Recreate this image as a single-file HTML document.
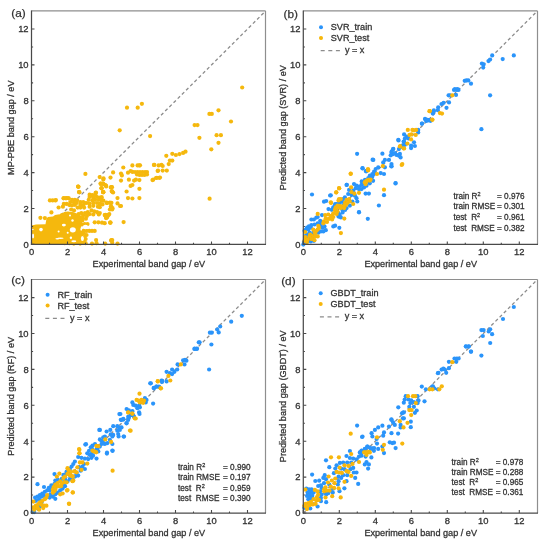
<!DOCTYPE html>
<html><head><meta charset="utf-8"><title>Band gap parity plots</title><style>
html,body{margin:0;padding:0;background:#fff;overflow:hidden;}
svg{display:block;}
.t{font-family:'Liberation Sans', Arial, sans-serif;font-size:9.1px;fill:#333333;stroke:#333333;stroke-width:0.3px;}
.tt{font-size:9.6px;}
.tk{font-size:9.4px;}
.s{font-family:'Liberation Sans', Arial, sans-serif;font-size:8.2px;fill:#333333;stroke:#333333;stroke-width:0.28px;}
.sup{font-size:5.5px;}
.pl{font-family:'Liberation Sans', Arial, sans-serif;font-size:11.8px;fill:#333333;stroke:#333333;stroke-width:0.25px;}
</style></head><body>
<svg width="550" height="543" viewBox="0 0 550 543">
<defs><filter id="soft" x="0" y="0" width="550" height="543" filterUnits="userSpaceOnUse"><feGaussianBlur stdDeviation="0.5"/></filter></defs>
<rect width="550" height="543" fill="#fff"/>
<g filter="url(#soft)">
<line x1="31.50" y1="244.40" x2="265.50" y2="11.05" stroke="#8c8c8c" stroke-width="1.3" stroke-dasharray="3.3,2.6"/>
<polygon points="31.5,244.9 31.5,225.5 36.0,224.5 45.5,224.3 46.5,218.5 48.0,217.0 53.0,216.5 55.0,215.0 58.0,214.5 62.0,214.0 64.0,212.0 68.0,211.5 74.0,212.5 80.0,214.5 82.0,218.0 82.0,224.0 80.0,230.0 84.0,232.0 83.0,236.0 86.0,240.0 86.0,244.9" fill="#f5b80c"/>
<g fill="#f5b80c"><circle cx="100.7" cy="183.7" r="2.1"/><circle cx="103.0" cy="183.7" r="2.1"/><circle cx="105.3" cy="185.1" r="2.1"/><circle cx="106.2" cy="186.4" r="2.1"/><circle cx="101.6" cy="188.3" r="2.1"/><circle cx="103.4" cy="192.0" r="2.1"/><circle cx="110.8" cy="187.4" r="2.1"/><circle cx="111.7" cy="191.0" r="2.1"/><circle cx="78.1" cy="186.6" r="2.1"/><circle cx="79.0" cy="192.0" r="2.1"/><circle cx="63.8" cy="198.0" r="2.1"/><circle cx="66.1" cy="198.0" r="2.1"/><circle cx="68.0" cy="198.0" r="2.1"/><circle cx="89.6" cy="194.7" r="2.1"/><circle cx="92.4" cy="195.2" r="2.1"/><circle cx="95.6" cy="192.9" r="2.1"/><circle cx="89.6" cy="197.0" r="2.1"/><circle cx="93.3" cy="197.5" r="2.1"/><circle cx="97.0" cy="197.0" r="2.1"/><circle cx="99.8" cy="197.5" r="2.1"/><circle cx="88.7" cy="199.8" r="2.1"/><circle cx="92.4" cy="200.3" r="2.1"/><circle cx="95.1" cy="199.8" r="2.1"/><circle cx="98.8" cy="199.8" r="2.1"/><circle cx="101.6" cy="200.7" r="2.1"/><circle cx="103.4" cy="200.7" r="2.1"/><circle cx="86.9" cy="203.0" r="2.1"/><circle cx="89.6" cy="203.5" r="2.1"/><circle cx="93.3" cy="203.0" r="2.1"/><circle cx="97.0" cy="203.0" r="2.1"/><circle cx="99.8" cy="203.9" r="2.1"/><circle cx="102.5" cy="204.4" r="2.1"/><circle cx="89.6" cy="206.7" r="2.1"/><circle cx="93.3" cy="205.8" r="2.1"/><circle cx="97.9" cy="206.7" r="2.1"/><circle cx="99.8" cy="207.2" r="2.1"/><circle cx="72.1" cy="199.8" r="2.1"/><circle cx="74.9" cy="199.8" r="2.1"/><circle cx="77.2" cy="200.3" r="2.1"/><circle cx="70.3" cy="202.1" r="2.1"/><circle cx="74.0" cy="202.6" r="2.1"/><circle cx="76.7" cy="203.0" r="2.1"/><circle cx="80.4" cy="202.1" r="2.1"/><circle cx="83.2" cy="202.1" r="2.1"/><circle cx="85.0" cy="203.0" r="2.1"/><circle cx="63.8" cy="203.9" r="2.1"/><circle cx="66.6" cy="203.9" r="2.1"/><circle cx="69.4" cy="204.9" r="2.1"/><circle cx="72.1" cy="205.3" r="2.1"/><circle cx="74.9" cy="204.9" r="2.1"/><circle cx="80.4" cy="204.9" r="2.1"/><circle cx="83.2" cy="205.3" r="2.1"/><circle cx="62.9" cy="206.7" r="2.1"/><circle cx="77.7" cy="207.6" r="2.1"/><circle cx="80.4" cy="207.6" r="2.1"/><circle cx="84.1" cy="207.6" r="2.1"/><circle cx="107.1" cy="203.0" r="2.1"/><circle cx="109.9" cy="202.6" r="2.1"/><circle cx="110.8" cy="206.7" r="2.1"/><circle cx="109.9" cy="209.5" r="2.1"/><circle cx="91.5" cy="210.4" r="2.1"/><circle cx="94.2" cy="211.3" r="2.1"/><circle cx="97.0" cy="212.2" r="2.1"/><circle cx="99.8" cy="213.1" r="2.1"/><circle cx="87.8" cy="212.2" r="2.1"/><circle cx="85.0" cy="213.1" r="2.1"/><circle cx="81.3" cy="213.1" r="2.1"/><circle cx="78.6" cy="214.1" r="2.1"/><circle cx="89.6" cy="214.1" r="2.1"/><circle cx="93.3" cy="214.5" r="2.1"/><circle cx="98.8" cy="214.5" r="2.1"/><circle cx="83.2" cy="215.5" r="2.1"/><circle cx="86.9" cy="215.9" r="2.1"/><circle cx="78.6" cy="216.8" r="2.1"/><circle cx="82.3" cy="217.8" r="2.1"/><circle cx="75.8" cy="215.9" r="2.1"/><circle cx="71.2" cy="209.5" r="2.1"/><circle cx="74.0" cy="210.4" r="2.1"/><circle cx="62.0" cy="215.0" r="2.1"/><circle cx="65.7" cy="215.0" r="2.1"/><circle cx="69.4" cy="214.1" r="2.1"/><circle cx="72.1" cy="214.1" r="2.1"/><circle cx="63.8" cy="217.8" r="2.1"/><circle cx="67.5" cy="217.8" r="2.1"/><circle cx="71.2" cy="217.8" r="2.1"/><circle cx="62.0" cy="220.5" r="2.1"/><circle cx="65.7" cy="220.5" r="2.1"/><circle cx="69.4" cy="220.5" r="2.1"/><circle cx="78.6" cy="219.6" r="2.1"/><circle cx="82.3" cy="220.5" r="2.1"/><circle cx="85.9" cy="218.7" r="2.1"/><circle cx="105.3" cy="215.0" r="2.1"/><circle cx="107.1" cy="215.0" r="2.1"/><circle cx="106.2" cy="216.8" r="2.1"/><circle cx="63.8" cy="224.5" r="2.1"/><circle cx="67.5" cy="225.0" r="2.1"/><circle cx="71.1" cy="224.1" r="2.1"/><circle cx="74.7" cy="224.5" r="2.1"/><circle cx="78.4" cy="225.0" r="2.1"/><circle cx="82.0" cy="224.5" r="2.1"/><circle cx="84.7" cy="224.1" r="2.1"/><circle cx="87.5" cy="224.1" r="2.1"/><circle cx="62.9" cy="228.6" r="2.1"/><circle cx="67.5" cy="229.1" r="2.1"/><circle cx="78.4" cy="230.0" r="2.1"/><circle cx="83.8" cy="230.5" r="2.1"/><circle cx="86.5" cy="230.9" r="2.1"/><circle cx="89.3" cy="230.9" r="2.1"/><circle cx="92.0" cy="230.9" r="2.1"/><circle cx="94.7" cy="230.9" r="2.1"/><circle cx="63.8" cy="232.3" r="2.1"/><circle cx="67.5" cy="233.2" r="2.1"/><circle cx="71.1" cy="232.3" r="2.1"/><circle cx="74.7" cy="234.1" r="2.1"/><circle cx="78.4" cy="234.1" r="2.1"/><circle cx="83.8" cy="233.2" r="2.1"/><circle cx="86.5" cy="235.0" r="2.1"/><circle cx="62.9" cy="236.8" r="2.1"/><circle cx="66.5" cy="236.8" r="2.1"/><circle cx="70.2" cy="236.8" r="2.1"/><circle cx="73.8" cy="236.8" r="2.1"/><circle cx="77.5" cy="236.8" r="2.1"/><circle cx="84.7" cy="236.8" r="2.1"/><circle cx="63.8" cy="240.5" r="2.1"/><circle cx="67.5" cy="240.5" r="2.1"/><circle cx="71.1" cy="239.5" r="2.1"/><circle cx="74.7" cy="240.5" r="2.1"/><circle cx="78.4" cy="239.5" r="2.1"/><circle cx="85.6" cy="239.1" r="2.1"/><circle cx="96.1" cy="240.0" r="2.1"/><circle cx="64.7" cy="243.2" r="2.1"/><circle cx="69.3" cy="243.2" r="2.1"/><circle cx="73.8" cy="243.6" r="2.1"/><circle cx="80.2" cy="243.6" r="2.1"/><circle cx="85.6" cy="243.2" r="2.1"/><circle cx="92.0" cy="243.6" r="2.1"/><circle cx="96.5" cy="243.2" r="2.1"/><circle cx="111.1" cy="240.5" r="2.1"/><circle cx="94.7" cy="222.3" r="2.1"/><circle cx="98.4" cy="222.3" r="2.1"/><circle cx="102.0" cy="222.7" r="2.1"/><circle cx="104.7" cy="223.2" r="2.1"/><circle cx="110.2" cy="222.7" r="2.1"/><circle cx="104.7" cy="215.0" r="2.1"/><circle cx="107.5" cy="215.9" r="2.1"/><circle cx="109.3" cy="214.1" r="2.1"/><circle cx="106.5" cy="217.7" r="2.1"/><circle cx="209.6" cy="198.7" r="2.1"/><circle cx="78.1" cy="186.6" r="2.1"/><circle cx="79.2" cy="192.1" r="2.1"/><circle cx="49.9" cy="200.4" r="2.1"/><circle cx="52.7" cy="200.4" r="2.1"/><circle cx="55.4" cy="200.4" r="2.1"/><circle cx="63.5" cy="198.3" r="2.1"/><circle cx="66.0" cy="198.3" r="2.1"/><circle cx="68.8" cy="198.3" r="2.1"/><circle cx="58.6" cy="207.5" r="2.1"/><circle cx="51.4" cy="212.4" r="2.1"/><circle cx="40.4" cy="217.8" r="2.1"/><circle cx="44.9" cy="218.1" r="2.1"/><circle cx="55.9" cy="200.1" r="2.1"/><circle cx="101.5" cy="188.3" r="2.1"/><circle cx="103.1" cy="192.2" r="2.1"/><circle cx="112.0" cy="187.2" r="2.1"/><circle cx="112.0" cy="191.6" r="2.1"/><circle cx="96.0" cy="192.7" r="2.1"/><circle cx="106.5" cy="202.7" r="2.1"/><circle cx="110.9" cy="203.2" r="2.1"/><circle cx="112.5" cy="208.2" r="2.1"/><circle cx="105.4" cy="214.8" r="2.1"/><circle cx="108.7" cy="214.8" r="2.1"/><circle cx="106.0" cy="218.1" r="2.1"/><circle cx="110.3" cy="222.6" r="2.1"/><circle cx="111.4" cy="240.2" r="2.1"/><circle cx="123.3" cy="167.5" r="2.1"/><circle cx="132.4" cy="165.4" r="2.1"/><circle cx="137.6" cy="165.4" r="2.1"/><circle cx="139.4" cy="165.4" r="2.1"/><circle cx="153.9" cy="164.9" r="2.1"/><circle cx="158.6" cy="165.4" r="2.1"/><circle cx="113.1" cy="172.4" r="2.1"/><circle cx="121.0" cy="173.6" r="2.1"/><circle cx="121.9" cy="175.4" r="2.1"/><circle cx="128.0" cy="172.7" r="2.1"/><circle cx="130.6" cy="171.0" r="2.1"/><circle cx="132.4" cy="171.9" r="2.1"/><circle cx="135.0" cy="172.0" r="2.1"/><circle cx="137.5" cy="172.0" r="2.1"/><circle cx="140.0" cy="172.0" r="2.1"/><circle cx="142.5" cy="172.0" r="2.1"/><circle cx="145.0" cy="172.0" r="2.1"/><circle cx="147.0" cy="172.0" r="2.1"/><circle cx="137.0" cy="174.5" r="2.1"/><circle cx="139.5" cy="175.0" r="2.1"/><circle cx="142.0" cy="175.0" r="2.1"/><circle cx="144.5" cy="175.0" r="2.1"/><circle cx="147.0" cy="174.5" r="2.1"/><circle cx="157.7" cy="171.0" r="2.1"/><circle cx="152.5" cy="180.1" r="2.1"/><circle cx="156.0" cy="178.0" r="2.1"/><circle cx="160.0" cy="177.6" r="2.1"/><circle cx="110.5" cy="177.6" r="2.1"/><circle cx="103.5" cy="178.3" r="2.1"/><circle cx="101.0" cy="184.0" r="2.1"/><circle cx="103.5" cy="184.0" r="2.1"/><circle cx="106.0" cy="185.5" r="2.1"/><circle cx="121.0" cy="180.6" r="2.1"/><circle cx="128.9" cy="179.7" r="2.1"/><circle cx="134.1" cy="180.6" r="2.1"/><circle cx="135.9" cy="179.7" r="2.1"/><circle cx="139.4" cy="180.1" r="2.1"/><circle cx="132.4" cy="185.0" r="2.1"/><circle cx="130.6" cy="185.9" r="2.1"/><circle cx="111.4" cy="187.1" r="2.1"/><circle cx="139.4" cy="188.8" r="2.1"/><circle cx="126.6" cy="191.5" r="2.1"/><circle cx="112.2" cy="191.6" r="2.1"/><circle cx="113.1" cy="192.5" r="2.1"/><circle cx="103.1" cy="192.0" r="2.1"/><circle cx="117.5" cy="198.1" r="2.1"/><circle cx="128.0" cy="198.1" r="2.1"/><circle cx="132.4" cy="198.5" r="2.1"/><circle cx="139.4" cy="198.1" r="2.1"/><circle cx="101.7" cy="197.2" r="2.1"/><circle cx="102.0" cy="200.0" r="2.1"/><circle cx="107.0" cy="202.8" r="2.1"/><circle cx="111.4" cy="202.8" r="2.1"/><circle cx="117.5" cy="203.4" r="2.1"/><circle cx="120.1" cy="206.0" r="2.1"/><circle cx="121.0" cy="206.0" r="2.1"/><circle cx="111.4" cy="206.9" r="2.1"/><circle cx="112.2" cy="209.5" r="2.1"/><circle cx="100.0" cy="204.0" r="2.1"/><circle cx="105.2" cy="215.6" r="2.1"/><circle cx="107.9" cy="215.6" r="2.1"/><circle cx="107.0" cy="217.4" r="2.1"/><circle cx="110.5" cy="222.6" r="2.1"/><circle cx="123.6" cy="222.1" r="2.1"/><circle cx="112.2" cy="240.1" r="2.1"/><circle cx="112.2" cy="242.7" r="2.1"/><circle cx="105.2" cy="243.6" r="2.1"/><circle cx="117.5" cy="243.6" r="2.1"/><circle cx="242.2" cy="87.5" r="2.1"/><circle cx="141.9" cy="103.8" r="2.1"/><circle cx="218.5" cy="110.3" r="2.1"/><circle cx="209.4" cy="113.9" r="2.1"/><circle cx="211.8" cy="113.9" r="2.1"/><circle cx="231.0" cy="121.5" r="2.1"/><circle cx="194.6" cy="125.1" r="2.1"/><circle cx="197.5" cy="125.1" r="2.1"/><circle cx="150.1" cy="136.1" r="2.1"/><circle cx="199.4" cy="137.8" r="2.1"/><circle cx="216.6" cy="135.2" r="2.1"/><circle cx="220.9" cy="135.2" r="2.1"/><circle cx="218.5" cy="142.8" r="2.1"/><circle cx="211.3" cy="149.3" r="2.1"/><circle cx="166.3" cy="155.8" r="2.1"/><circle cx="172.3" cy="153.8" r="2.1"/><circle cx="175.9" cy="155.0" r="2.1"/><circle cx="179.5" cy="154.1" r="2.1"/><circle cx="183.1" cy="152.9" r="2.1"/><circle cx="185.5" cy="151.7" r="2.1"/><circle cx="169.9" cy="160.6" r="2.1"/><circle cx="172.3" cy="160.6" r="2.1"/><circle cx="168.7" cy="164.1" r="2.1"/><circle cx="154.4" cy="164.9" r="2.1"/><circle cx="161.5" cy="164.9" r="2.1"/><circle cx="162.7" cy="166.0" r="2.1"/><circle cx="158.0" cy="170.6" r="2.1"/><circle cx="162.7" cy="170.6" r="2.1"/><circle cx="166.8" cy="170.6" r="2.1"/><circle cx="153.2" cy="179.7" r="2.1"/><circle cx="156.8" cy="177.8" r="2.1"/><circle cx="159.2" cy="177.8" r="2.1"/><circle cx="140.0" cy="165.3" r="2.1"/><circle cx="127.0" cy="107.7" r="2.1"/><circle cx="137.7" cy="107.7" r="2.1"/><circle cx="119.7" cy="130.3" r="2.1"/><circle cx="85.4" cy="173.9" r="2.1"/><circle cx="99.7" cy="177.1" r="2.1"/><circle cx="103.3" cy="179.4" r="2.1"/><circle cx="100.6" cy="183.5" r="2.1"/><circle cx="102.9" cy="183.5" r="2.1"/><circle cx="101.5" cy="188.1" r="2.1"/><circle cx="103.3" cy="192.3" r="2.1"/><circle cx="78.5" cy="186.8" r="2.1"/><circle cx="79.4" cy="192.3" r="2.1"/><circle cx="90.0" cy="195.0" r="2.1"/><circle cx="92.8" cy="195.5" r="2.1"/><circle cx="95.5" cy="195.5" r="2.1"/></g>
<ellipse cx="72.5" cy="220.5" rx="1.2" ry="1.2" fill="#fff"/>
<ellipse cx="70.0" cy="215.5" rx="1" ry="1" fill="#fff"/>
<ellipse cx="41.0" cy="229.6" rx="1.8" ry="1.8" fill="#fff"/>
<ellipse cx="33.0" cy="236.0" rx="1.1" ry="2.6" fill="#fff"/>
<ellipse cx="32.8" cy="229.5" rx="0.8" ry="0.8" fill="#fff"/>
<ellipse cx="58.6" cy="231.5" rx="1" ry="1" fill="#fff"/>
<ellipse cx="57.4" cy="238.7" rx="2" ry="0.7" fill="#fff"/>
<ellipse cx="63.9" cy="225.1" rx="2" ry="1.3" fill="#fff"/>
<ellipse cx="72.8" cy="229.8" rx="3" ry="2.6" fill="#fff"/>
<ellipse cx="67.7" cy="232.7" rx="1" ry="1" fill="#fff"/>
<ellipse cx="60.5" cy="238.2" rx="3.2" ry="0.8" fill="#fff"/>
<ellipse cx="70.9" cy="237.8" rx="1.2" ry="1.2" fill="#fff"/>
<ellipse cx="73.8" cy="241.3" rx="2.5" ry="1" fill="#fff"/>
<ellipse cx="82.4" cy="238.5" rx="1.5" ry="2.5" fill="#fff"/>
<ellipse cx="85.5" cy="227.0" rx="2.6" ry="2.2" fill="#fff"/>
<line x1="31.50" y1="10.95" x2="265.50" y2="10.95" stroke="#8e8e8e" stroke-width="1.2"/>
<line x1="265.50" y1="10.95" x2="265.50" y2="244.40" stroke="#8e8e8e" stroke-width="1.2"/>
<line x1="31.50" y1="10.45" x2="31.50" y2="245.00" stroke="#4a4a4a" stroke-width="1.25"/>
<line x1="30.90" y1="244.40" x2="266.00" y2="244.40" stroke="#4a4a4a" stroke-width="1.25"/>
<text x="31.5" y="255.4" text-anchor="middle" class="t tk">0</text>
<text x="28.6" y="247.7" text-anchor="end" class="t tk">0</text>
<text x="67.5" y="255.4" text-anchor="middle" class="t tk">2</text>
<text x="28.6" y="211.8" text-anchor="end" class="t tk">2</text>
<text x="103.5" y="255.4" text-anchor="middle" class="t tk">4</text>
<text x="28.6" y="175.9" text-anchor="end" class="t tk">4</text>
<text x="139.5" y="255.4" text-anchor="middle" class="t tk">6</text>
<text x="28.6" y="140.0" text-anchor="end" class="t tk">6</text>
<text x="175.5" y="255.4" text-anchor="middle" class="t tk">8</text>
<text x="28.6" y="104.1" text-anchor="end" class="t tk">8</text>
<text x="211.5" y="255.4" text-anchor="middle" class="t tk">10</text>
<text x="28.6" y="68.2" text-anchor="end" class="t tk">10</text>
<text x="247.5" y="255.4" text-anchor="middle" class="t tk">12</text>
<text x="28.6" y="32.3" text-anchor="end" class="t tk">12</text>
<path d="M31.50 244.40V241.40M31.50 244.40H34.50M49.50 244.40V242.80M31.50 226.45H33.10M67.50 244.40V241.40M31.50 208.50H34.50M85.50 244.40V242.80M31.50 190.55H33.10M103.50 244.40V241.40M31.50 172.60H34.50M121.50 244.40V242.80M31.50 154.65H33.10M139.50 244.40V241.40M31.50 136.70H34.50M157.50 244.40V242.80M31.50 118.75H33.10M175.50 244.40V241.40M31.50 100.80H34.50M193.50 244.40V242.80M31.50 82.85H33.10M211.50 244.40V241.40M31.50 64.90H34.50M229.50 244.40V242.80M31.50 46.95H33.10M247.50 244.40V241.40M31.50 29.00H34.50" stroke="#4a4a4a" stroke-width="1.1" fill="none"/>
<text x="148.9" y="267.0" text-anchor="middle" class="t tt" textLength="112.6" lengthAdjust="spacingAndGlyphs">Experimental band gap / eV</text>
<text transform="translate(14.3,127.7) rotate(-90)" x="0" y="0" text-anchor="middle" class="t tt" textLength="94.4" lengthAdjust="spacingAndGlyphs">MP-PBE band gap / eV</text>
<text x="11.3" y="17.1" class="pl">(a)</text>
<line x1="303.30" y1="244.40" x2="537.30" y2="11.05" stroke="#8c8c8c" stroke-width="1.3" stroke-dasharray="3.3,2.6"/>
<g fill="#2a94fa"><circle cx="324.0" cy="201.7" r="2.1"/><circle cx="326.2" cy="201.0" r="2.1"/><circle cx="335.1" cy="204.1" r="2.1"/><circle cx="336.8" cy="205.8" r="2.1"/><circle cx="328.5" cy="209.1" r="2.1"/><circle cx="338.5" cy="216.6" r="2.1"/><circle cx="340.9" cy="217.4" r="2.1"/><circle cx="339.7" cy="214.9" r="2.1"/><circle cx="342.6" cy="212.4" r="2.1"/><circle cx="345.1" cy="209.9" r="2.1"/><circle cx="343.4" cy="205.0" r="2.1"/><circle cx="345.1" cy="202.5" r="2.1"/><circle cx="340.9" cy="201.7" r="2.1"/><circle cx="335.1" cy="225.7" r="2.1"/><circle cx="339.3" cy="227.8" r="2.1"/><circle cx="346.6" cy="184.9" r="2.1"/><circle cx="354.0" cy="184.1" r="2.1"/><circle cx="356.5" cy="185.7" r="2.1"/><circle cx="359.0" cy="186.6" r="2.1"/><circle cx="361.5" cy="184.9" r="2.1"/><circle cx="363.1" cy="183.3" r="2.1"/><circle cx="365.6" cy="182.4" r="2.1"/><circle cx="368.1" cy="180.8" r="2.1"/><circle cx="370.6" cy="179.1" r="2.1"/><circle cx="372.3" cy="176.6" r="2.1"/><circle cx="373.9" cy="174.1" r="2.1"/><circle cx="373.1" cy="180.8" r="2.1"/><circle cx="369.8" cy="183.3" r="2.1"/><circle cx="366.5" cy="185.7" r="2.1"/><circle cx="364.0" cy="187.4" r="2.1"/><circle cx="361.5" cy="189.1" r="2.1"/><circle cx="359.0" cy="189.1" r="2.1"/><circle cx="355.7" cy="188.2" r="2.1"/><circle cx="353.2" cy="190.7" r="2.1"/><circle cx="349.1" cy="189.9" r="2.1"/><circle cx="348.2" cy="194.0" r="2.1"/><circle cx="351.5" cy="194.9" r="2.1"/><circle cx="354.9" cy="195.7" r="2.1"/><circle cx="356.5" cy="198.2" r="2.1"/><circle cx="357.3" cy="201.5" r="2.1"/><circle cx="365.6" cy="193.6" r="2.1"/><circle cx="368.9" cy="193.6" r="2.1"/><circle cx="330.8" cy="195.3" r="2.1"/><circle cx="344.9" cy="197.3" r="2.1"/><circle cx="343.3" cy="199.0" r="2.1"/><circle cx="341.6" cy="201.5" r="2.1"/><circle cx="339.1" cy="203.1" r="2.1"/><circle cx="336.6" cy="204.0" r="2.1"/><circle cx="335.0" cy="205.6" r="2.1"/><circle cx="333.3" cy="207.3" r="2.1"/><circle cx="331.7" cy="209.8" r="2.1"/><circle cx="338.3" cy="213.1" r="2.1"/><circle cx="342.4" cy="209.8" r="2.1"/><circle cx="346.6" cy="208.1" r="2.1"/><circle cx="349.9" cy="205.6" r="2.1"/><circle cx="352.4" cy="201.5" r="2.1"/><circle cx="359.0" cy="212.3" r="2.1"/><circle cx="366.5" cy="170.8" r="2.1"/><circle cx="398.5" cy="140.4" r="2.1"/><circle cx="403.9" cy="141.7" r="2.1"/><circle cx="403.1" cy="145.0" r="2.1"/><circle cx="393.1" cy="149.1" r="2.1"/><circle cx="391.5" cy="152.4" r="2.1"/><circle cx="393.1" cy="154.1" r="2.1"/><circle cx="390.7" cy="155.3" r="2.1"/><circle cx="396.5" cy="154.9" r="2.1"/><circle cx="398.9" cy="155.7" r="2.1"/><circle cx="400.6" cy="157.4" r="2.1"/><circle cx="382.4" cy="153.7" r="2.1"/><circle cx="373.3" cy="159.9" r="2.1"/><circle cx="389.0" cy="159.9" r="2.1"/><circle cx="384.9" cy="159.9" r="2.1"/><circle cx="383.2" cy="162.4" r="2.1"/><circle cx="391.5" cy="164.0" r="2.1"/><circle cx="391.5" cy="166.5" r="2.1"/><circle cx="384.9" cy="167.3" r="2.1"/><circle cx="378.2" cy="167.3" r="2.1"/><circle cx="375.7" cy="169.0" r="2.1"/><circle cx="362.5" cy="168.2" r="2.1"/><circle cx="365.8" cy="171.1" r="2.1"/><circle cx="374.1" cy="171.5" r="2.1"/><circle cx="372.4" cy="174.0" r="2.1"/><circle cx="369.9" cy="175.6" r="2.1"/><circle cx="368.3" cy="178.1" r="2.1"/><circle cx="365.0" cy="179.8" r="2.1"/><circle cx="361.7" cy="181.4" r="2.1"/><circle cx="371.6" cy="178.9" r="2.1"/><circle cx="380.7" cy="173.1" r="2.1"/><circle cx="384.0" cy="174.0" r="2.1"/><circle cx="395.6" cy="183.1" r="2.1"/><circle cx="398.9" cy="149.1" r="2.1"/><circle cx="401.4" cy="146.6" r="2.1"/><circle cx="433.1" cy="112.5" r="2.1"/><circle cx="433.9" cy="110.4" r="2.1"/><circle cx="425.6" cy="119.5" r="2.1"/><circle cx="428.1" cy="120.4" r="2.1"/><circle cx="430.6" cy="120.8" r="2.1"/><circle cx="421.9" cy="123.7" r="2.1"/><circle cx="418.2" cy="129.9" r="2.1"/><circle cx="418.2" cy="132.4" r="2.1"/><circle cx="404.1" cy="134.4" r="2.1"/><circle cx="406.6" cy="136.5" r="2.1"/><circle cx="404.9" cy="138.6" r="2.1"/><circle cx="408.2" cy="138.2" r="2.1"/><circle cx="398.3" cy="139.8" r="2.1"/><circle cx="403.7" cy="141.5" r="2.1"/><circle cx="414.0" cy="142.3" r="2.1"/><circle cx="414.9" cy="146.0" r="2.1"/><circle cx="411.1" cy="145.6" r="2.1"/><circle cx="411.1" cy="148.1" r="2.1"/><circle cx="404.9" cy="144.8" r="2.1"/><circle cx="401.6" cy="146.5" r="2.1"/><circle cx="393.3" cy="148.9" r="2.1"/><circle cx="391.7" cy="151.4" r="2.1"/><circle cx="395.0" cy="153.1" r="2.1"/><circle cx="399.9" cy="153.9" r="2.1"/><circle cx="464.7" cy="80.8" r="2.1"/><circle cx="454.0" cy="89.9" r="2.1"/><circle cx="456.5" cy="89.9" r="2.1"/><circle cx="458.5" cy="89.9" r="2.1"/><circle cx="448.6" cy="95.3" r="2.1"/><circle cx="450.2" cy="95.3" r="2.1"/><circle cx="456.0" cy="94.9" r="2.1"/><circle cx="441.5" cy="104.0" r="2.1"/><circle cx="443.6" cy="102.8" r="2.1"/><circle cx="449.0" cy="102.4" r="2.1"/><circle cx="438.2" cy="107.3" r="2.1"/><circle cx="446.5" cy="107.8" r="2.1"/><circle cx="437.8" cy="110.2" r="2.1"/><circle cx="433.7" cy="111.5" r="2.1"/><circle cx="432.8" cy="113.6" r="2.1"/><circle cx="425.0" cy="118.9" r="2.1"/><circle cx="427.5" cy="119.8" r="2.1"/><circle cx="429.5" cy="120.2" r="2.1"/><circle cx="422.1" cy="123.5" r="2.1"/><circle cx="426.2" cy="121.0" r="2.1"/><circle cx="492.2" cy="55.4" r="2.1"/><circle cx="490.1" cy="59.5" r="2.1"/><circle cx="488.5" cy="61.1" r="2.1"/><circle cx="481.9" cy="63.6" r="2.1"/><circle cx="483.6" cy="64.4" r="2.1"/><circle cx="483.2" cy="67.6" r="2.1"/><circle cx="502.7" cy="59.1" r="2.1"/><circle cx="513.8" cy="55.4" r="2.1"/><circle cx="466.4" cy="80.4" r="2.1"/><circle cx="468.3" cy="80.4" r="2.1"/><circle cx="471.0" cy="83.7" r="2.1"/><circle cx="454.9" cy="89.2" r="2.1"/><circle cx="457.4" cy="89.2" r="2.1"/><circle cx="490.1" cy="95.3" r="2.1"/><circle cx="481.4" cy="129.2" r="2.1"/><circle cx="357.1" cy="153.8" r="2.1"/><circle cx="372.6" cy="159.7" r="2.1"/><circle cx="362.6" cy="168.4" r="2.1"/><circle cx="366.2" cy="171.3" r="2.1"/><circle cx="346.8" cy="184.8" r="2.1"/><circle cx="312.0" cy="194.5" r="2.1"/><circle cx="330.1" cy="195.5" r="2.1"/><circle cx="395.5" cy="183.4" r="2.1"/><circle cx="384.0" cy="195.2" r="2.1"/><circle cx="378.9" cy="205.5" r="2.1"/><circle cx="359.0" cy="212.1" r="2.1"/><circle cx="367.8" cy="218.8" r="2.1"/><circle cx="391.4" cy="166.2" r="2.1"/><circle cx="311.4" cy="219.5" r="2.1"/><circle cx="313.9" cy="219.5" r="2.1"/><circle cx="316.4" cy="217.6" r="2.1"/><circle cx="317.7" cy="217.0" r="2.1"/><circle cx="322.0" cy="215.1" r="2.1"/><circle cx="320.2" cy="220.8" r="2.1"/><circle cx="322.0" cy="222.6" r="2.1"/><circle cx="319.5" cy="224.5" r="2.1"/><circle cx="317.7" cy="223.3" r="2.1"/><circle cx="314.5" cy="224.5" r="2.1"/><circle cx="311.4" cy="225.1" r="2.1"/><circle cx="308.9" cy="226.4" r="2.1"/><circle cx="307.0" cy="227.7" r="2.1"/><circle cx="305.8" cy="229.5" r="2.1"/><circle cx="304.5" cy="230.8" r="2.1"/><circle cx="308.3" cy="229.5" r="2.1"/><circle cx="310.8" cy="227.7" r="2.1"/><circle cx="320.8" cy="226.4" r="2.1"/><circle cx="322.7" cy="227.7" r="2.1"/><circle cx="324.5" cy="226.4" r="2.1"/><circle cx="325.8" cy="230.2" r="2.1"/><circle cx="323.3" cy="231.4" r="2.1"/><circle cx="320.8" cy="231.4" r="2.1"/><circle cx="318.3" cy="232.7" r="2.1"/><circle cx="315.8" cy="232.7" r="2.1"/><circle cx="313.3" cy="232.7" r="2.1"/><circle cx="309.5" cy="232.7" r="2.1"/><circle cx="307.0" cy="234.5" r="2.1"/><circle cx="305.8" cy="235.8" r="2.1"/><circle cx="303.9" cy="242.1" r="2.1"/><circle cx="307.6" cy="241.4" r="2.1"/><circle cx="310.8" cy="241.4" r="2.1"/><circle cx="308.3" cy="238.3" r="2.1"/><circle cx="310.8" cy="237.0" r="2.1"/><circle cx="313.9" cy="240.8" r="2.1"/><circle cx="303.3" cy="244.6" r="2.1"/><circle cx="333.3" cy="226.4" r="2.1"/></g>
<g fill="#f7b608"><circle cx="331.0" cy="202.9" r="2.1"/><circle cx="338.5" cy="200.4" r="2.1"/><circle cx="335.1" cy="209.9" r="2.1"/><circle cx="336.8" cy="207.5" r="2.1"/><circle cx="339.3" cy="205.8" r="2.1"/><circle cx="341.8" cy="206.6" r="2.1"/><circle cx="344.3" cy="207.5" r="2.1"/><circle cx="345.9" cy="205.0" r="2.1"/><circle cx="345.1" cy="202.5" r="2.1"/><circle cx="344.3" cy="218.6" r="2.1"/><circle cx="340.9" cy="233.1" r="2.1"/><circle cx="350.7" cy="173.7" r="2.1"/><circle cx="368.1" cy="170.4" r="2.1"/><circle cx="339.1" cy="188.2" r="2.1"/><circle cx="336.2" cy="192.4" r="2.1"/><circle cx="351.1" cy="187.4" r="2.1"/><circle cx="351.5" cy="192.0" r="2.1"/><circle cx="354.4" cy="193.6" r="2.1"/><circle cx="359.0" cy="192.8" r="2.1"/><circle cx="364.8" cy="182.4" r="2.1"/><circle cx="366.5" cy="180.8" r="2.1"/><circle cx="368.9" cy="179.9" r="2.1"/><circle cx="370.6" cy="179.5" r="2.1"/><circle cx="365.6" cy="184.1" r="2.1"/><circle cx="339.1" cy="199.0" r="2.1"/><circle cx="340.8" cy="199.0" r="2.1"/><circle cx="346.6" cy="199.8" r="2.1"/><circle cx="349.1" cy="199.0" r="2.1"/><circle cx="349.9" cy="201.5" r="2.1"/><circle cx="347.4" cy="203.1" r="2.1"/><circle cx="344.9" cy="204.8" r="2.1"/><circle cx="342.4" cy="206.5" r="2.1"/><circle cx="339.9" cy="207.3" r="2.1"/><circle cx="337.5" cy="205.6" r="2.1"/><circle cx="335.8" cy="207.3" r="2.1"/><circle cx="335.0" cy="209.8" r="2.1"/><circle cx="337.5" cy="211.4" r="2.1"/><circle cx="340.8" cy="208.1" r="2.1"/><circle cx="344.1" cy="208.1" r="2.1"/><circle cx="353.2" cy="204.0" r="2.1"/><circle cx="330.8" cy="202.3" r="2.1"/><circle cx="336.6" cy="213.9" r="2.1"/><circle cx="400.2" cy="146.2" r="2.1"/><circle cx="403.5" cy="148.3" r="2.1"/><circle cx="402.3" cy="164.0" r="2.1"/><circle cx="382.8" cy="166.1" r="2.1"/><circle cx="367.9" cy="169.4" r="2.1"/><circle cx="377.0" cy="174.0" r="2.1"/><circle cx="368.3" cy="179.8" r="2.1"/><circle cx="369.9" cy="180.6" r="2.1"/><circle cx="365.0" cy="182.3" r="2.1"/><circle cx="366.6" cy="181.4" r="2.1"/><circle cx="429.4" cy="111.2" r="2.1"/><circle cx="432.3" cy="119.5" r="2.1"/><circle cx="407.8" cy="129.9" r="2.1"/><circle cx="412.4" cy="129.9" r="2.1"/><circle cx="414.0" cy="130.3" r="2.1"/><circle cx="416.1" cy="129.9" r="2.1"/><circle cx="409.5" cy="134.9" r="2.1"/><circle cx="411.5" cy="134.4" r="2.1"/><circle cx="415.7" cy="134.9" r="2.1"/><circle cx="411.1" cy="139.4" r="2.1"/><circle cx="407.4" cy="143.6" r="2.1"/><circle cx="399.9" cy="146.5" r="2.1"/><circle cx="404.1" cy="148.5" r="2.1"/><circle cx="452.3" cy="95.3" r="2.1"/><circle cx="429.9" cy="111.1" r="2.1"/><circle cx="439.9" cy="113.1" r="2.1"/><circle cx="442.0" cy="113.6" r="2.1"/><circle cx="432.4" cy="119.8" r="2.1"/><circle cx="350.7" cy="173.8" r="2.1"/><circle cx="368.1" cy="169.3" r="2.1"/><circle cx="339.1" cy="188.3" r="2.1"/><circle cx="336.3" cy="192.3" r="2.1"/><circle cx="384.0" cy="189.7" r="2.1"/><circle cx="401.7" cy="165.0" r="2.1"/><circle cx="317.7" cy="213.9" r="2.1"/><circle cx="325.2" cy="215.1" r="2.1"/><circle cx="328.3" cy="214.5" r="2.1"/><circle cx="331.4" cy="215.8" r="2.1"/><circle cx="325.8" cy="218.3" r="2.1"/><circle cx="328.9" cy="218.9" r="2.1"/><circle cx="332.1" cy="219.5" r="2.1"/><circle cx="323.9" cy="221.4" r="2.1"/><circle cx="327.0" cy="222.0" r="2.1"/><circle cx="323.3" cy="223.3" r="2.1"/><circle cx="318.3" cy="225.8" r="2.1"/><circle cx="318.9" cy="227.7" r="2.1"/><circle cx="317.7" cy="229.5" r="2.1"/><circle cx="316.4" cy="230.8" r="2.1"/><circle cx="313.3" cy="229.5" r="2.1"/><circle cx="314.5" cy="232.0" r="2.1"/><circle cx="315.1" cy="233.3" r="2.1"/><circle cx="305.1" cy="232.0" r="2.1"/><circle cx="310.1" cy="234.5" r="2.1"/><circle cx="312.0" cy="235.8" r="2.1"/><circle cx="313.3" cy="237.0" r="2.1"/><circle cx="315.1" cy="236.4" r="2.1"/><circle cx="317.7" cy="236.4" r="2.1"/><circle cx="309.5" cy="236.4" r="2.1"/><circle cx="305.1" cy="237.0" r="2.1"/><circle cx="305.8" cy="238.9" r="2.1"/><circle cx="307.6" cy="239.6" r="2.1"/><circle cx="304.5" cy="240.8" r="2.1"/><circle cx="307.0" cy="242.1" r="2.1"/><circle cx="314.5" cy="240.2" r="2.1"/><circle cx="311.4" cy="238.9" r="2.1"/><circle cx="333.3" cy="213.3" r="2.1"/><circle cx="333.3" cy="217.0" r="2.1"/><circle cx="330.8" cy="217.6" r="2.1"/></g>
<line x1="303.30" y1="10.95" x2="537.50" y2="10.95" stroke="#8e8e8e" stroke-width="1.2"/>
<line x1="537.50" y1="10.95" x2="537.50" y2="244.40" stroke="#8e8e8e" stroke-width="1.2"/>
<line x1="303.30" y1="10.45" x2="303.30" y2="245.00" stroke="#4a4a4a" stroke-width="1.25"/>
<line x1="302.70" y1="244.40" x2="538.00" y2="244.40" stroke="#4a4a4a" stroke-width="1.25"/>
<text x="303.3" y="255.4" text-anchor="middle" class="t tk">0</text>
<text x="300.4" y="247.7" text-anchor="end" class="t tk">0</text>
<text x="339.3" y="255.4" text-anchor="middle" class="t tk">2</text>
<text x="300.4" y="211.8" text-anchor="end" class="t tk">2</text>
<text x="375.3" y="255.4" text-anchor="middle" class="t tk">4</text>
<text x="300.4" y="175.9" text-anchor="end" class="t tk">4</text>
<text x="411.3" y="255.4" text-anchor="middle" class="t tk">6</text>
<text x="300.4" y="140.0" text-anchor="end" class="t tk">6</text>
<text x="447.3" y="255.4" text-anchor="middle" class="t tk">8</text>
<text x="300.4" y="104.1" text-anchor="end" class="t tk">8</text>
<text x="483.3" y="255.4" text-anchor="middle" class="t tk">10</text>
<text x="300.4" y="68.2" text-anchor="end" class="t tk">10</text>
<text x="519.3" y="255.4" text-anchor="middle" class="t tk">12</text>
<text x="300.4" y="32.3" text-anchor="end" class="t tk">12</text>
<path d="M303.30 244.40V241.40M303.30 244.40H306.30M321.30 244.40V242.80M303.30 226.45H304.90M339.30 244.40V241.40M303.30 208.50H306.30M357.30 244.40V242.80M303.30 190.55H304.90M375.30 244.40V241.40M303.30 172.60H306.30M393.30 244.40V242.80M303.30 154.65H304.90M411.30 244.40V241.40M303.30 136.70H306.30M429.30 244.40V242.80M303.30 118.75H304.90M447.30 244.40V241.40M303.30 100.80H306.30M465.30 244.40V242.80M303.30 82.85H304.90M483.30 244.40V241.40M303.30 64.90H306.30M501.30 244.40V242.80M303.30 46.95H304.90M519.30 244.40V241.40M303.30 29.00H306.30" stroke="#4a4a4a" stroke-width="1.1" fill="none"/>
<text x="420.7" y="267.0" text-anchor="middle" class="t tt" textLength="112.6" lengthAdjust="spacingAndGlyphs">Experimental band gap / eV</text>
<text transform="translate(286.1,127.7) rotate(-90)" x="0" y="0" text-anchor="middle" class="t tt" textLength="125.2" lengthAdjust="spacingAndGlyphs">Predicted band gap (SVR) / eV</text>
<text x="283.5" y="17.6" class="pl">(b)</text>
<circle cx="321.0" cy="27.2" r="2.0" fill="#2a94fa"/>
<circle cx="321.0" cy="38.0" r="2.0" fill="#f7b608"/>
<text x="330.8" y="30.3" class="t">SVR_train</text>
<text x="330.8" y="41.2" class="t">SVR_test</text>
<line x1="320.7" y1="50.7" x2="340.0" y2="50.7" stroke="#8c8c8c" stroke-width="1.2" stroke-dasharray="4,3.6"/>
<text x="344.9" y="53.2" class="t">y = x</text>
<text x="453.4" y="198.7" class="s">train R<tspan class="sup" dy="-3">2</tspan></text>
<text x="524.6" y="198.7" text-anchor="end" class="s">= 0.976</text>
<text x="453.4" y="209.3" class="s">train RMSE</text>
<text x="524.6" y="209.3" text-anchor="end" class="s">= 0.301</text>
<text x="453.4" y="219.9" class="s">test&#160; R<tspan class="sup" dy="-3">2</tspan></text>
<text x="524.6" y="219.9" text-anchor="end" class="s">= 0.961</text>
<text x="453.4" y="230.5" class="s">test&#160; RMSE</text>
<text x="524.6" y="230.5" text-anchor="end" class="s">= 0.382</text>
<line x1="31.50" y1="513.00" x2="265.50" y2="279.65" stroke="#8c8c8c" stroke-width="1.3" stroke-dasharray="3.3,2.6"/>
<g fill="#2a94fa"><circle cx="67.5" cy="473.0" r="2.1"/><circle cx="69.9" cy="468.8" r="2.1"/><circle cx="72.4" cy="479.6" r="2.1"/><circle cx="74.9" cy="476.3" r="2.1"/><circle cx="85.3" cy="444.6" r="2.1"/><circle cx="101.4" cy="440.8" r="2.1"/><circle cx="103.9" cy="443.3" r="2.1"/><circle cx="99.8" cy="446.6" r="2.1"/><circle cx="97.3" cy="449.1" r="2.1"/><circle cx="91.5" cy="447.5" r="2.1"/><circle cx="89.0" cy="450.8" r="2.1"/><circle cx="87.3" cy="453.3" r="2.1"/><circle cx="89.8" cy="454.9" r="2.1"/><circle cx="93.1" cy="455.7" r="2.1"/><circle cx="96.5" cy="458.6" r="2.1"/><circle cx="78.2" cy="457.0" r="2.1"/><circle cx="81.5" cy="457.8" r="2.1"/><circle cx="84.9" cy="458.6" r="2.1"/><circle cx="88.2" cy="459.1" r="2.1"/><circle cx="91.5" cy="457.8" r="2.1"/><circle cx="74.9" cy="461.5" r="2.1"/><circle cx="73.3" cy="464.0" r="2.1"/><circle cx="71.6" cy="466.5" r="2.1"/><circle cx="84.0" cy="464.0" r="2.1"/><circle cx="82.4" cy="466.5" r="2.1"/><circle cx="84.9" cy="469.0" r="2.1"/><circle cx="79.1" cy="467.3" r="2.1"/><circle cx="80.7" cy="470.7" r="2.1"/><circle cx="76.6" cy="473.1" r="2.1"/><circle cx="78.2" cy="475.6" r="2.1"/><circle cx="74.9" cy="476.5" r="2.1"/><circle cx="69.9" cy="471.5" r="2.1"/><circle cx="66.6" cy="471.5" r="2.1"/><circle cx="69.9" cy="478.9" r="2.1"/><circle cx="67.5" cy="481.4" r="2.1"/><circle cx="119.4" cy="414.1" r="2.1"/><circle cx="128.9" cy="410.4" r="2.1"/><circle cx="131.4" cy="415.0" r="2.1"/><circle cx="128.9" cy="417.5" r="2.1"/><circle cx="128.1" cy="419.9" r="2.1"/><circle cx="133.9" cy="416.6" r="2.1"/><circle cx="121.5" cy="419.9" r="2.1"/><circle cx="123.1" cy="419.5" r="2.1"/><circle cx="126.5" cy="423.3" r="2.1"/><circle cx="113.2" cy="426.2" r="2.1"/><circle cx="117.3" cy="426.2" r="2.1"/><circle cx="119.0" cy="427.4" r="2.1"/><circle cx="121.5" cy="427.4" r="2.1"/><circle cx="119.8" cy="429.9" r="2.1"/><circle cx="117.3" cy="430.7" r="2.1"/><circle cx="99.9" cy="429.9" r="2.1"/><circle cx="106.6" cy="431.5" r="2.1"/><circle cx="110.3" cy="429.9" r="2.1"/><circle cx="110.7" cy="434.4" r="2.1"/><circle cx="113.2" cy="434.9" r="2.1"/><circle cx="112.4" cy="436.5" r="2.1"/><circle cx="118.2" cy="434.0" r="2.1"/><circle cx="118.6" cy="436.5" r="2.1"/><circle cx="123.6" cy="436.5" r="2.1"/><circle cx="104.9" cy="436.5" r="2.1"/><circle cx="103.3" cy="437.3" r="2.1"/><circle cx="99.9" cy="439.4" r="2.1"/><circle cx="102.4" cy="441.5" r="2.1"/><circle cx="101.6" cy="444.0" r="2.1"/><circle cx="104.9" cy="444.0" r="2.1"/><circle cx="107.4" cy="443.1" r="2.1"/><circle cx="109.9" cy="439.8" r="2.1"/><circle cx="112.4" cy="444.0" r="2.1"/><circle cx="92.5" cy="445.6" r="2.1"/><circle cx="95.0" cy="444.0" r="2.1"/><circle cx="90.8" cy="447.3" r="2.1"/><circle cx="92.5" cy="449.8" r="2.1"/><circle cx="96.6" cy="448.9" r="2.1"/><circle cx="98.3" cy="451.4" r="2.1"/><circle cx="112.4" cy="450.6" r="2.1"/><circle cx="107.0" cy="452.7" r="2.1"/><circle cx="91.7" cy="453.9" r="2.1"/><circle cx="150.2" cy="383.3" r="2.1"/><circle cx="162.3" cy="380.8" r="2.1"/><circle cx="154.0" cy="388.3" r="2.1"/><circle cx="156.5" cy="386.6" r="2.1"/><circle cx="158.9" cy="386.6" r="2.1"/><circle cx="144.9" cy="398.2" r="2.1"/><circle cx="146.5" cy="399.9" r="2.1"/><circle cx="145.7" cy="402.4" r="2.1"/><circle cx="132.4" cy="402.4" r="2.1"/><circle cx="133.3" cy="404.9" r="2.1"/><circle cx="135.7" cy="405.7" r="2.1"/><circle cx="139.1" cy="405.7" r="2.1"/><circle cx="137.4" cy="408.2" r="2.1"/><circle cx="139.9" cy="407.3" r="2.1"/><circle cx="153.1" cy="403.6" r="2.1"/><circle cx="126.6" cy="409.0" r="2.1"/><circle cx="132.4" cy="411.1" r="2.1"/><circle cx="130.8" cy="414.8" r="2.1"/><circle cx="128.3" cy="416.5" r="2.1"/><circle cx="128.3" cy="418.9" r="2.1"/><circle cx="123.3" cy="418.9" r="2.1"/><circle cx="120.8" cy="419.8" r="2.1"/><circle cx="139.1" cy="412.3" r="2.1"/><circle cx="139.5" cy="414.0" r="2.1"/><circle cx="120.4" cy="414.0" r="2.1"/><circle cx="126.6" cy="423.1" r="2.1"/><circle cx="133.3" cy="415.6" r="2.1"/><circle cx="198.8" cy="342.3" r="2.1"/><circle cx="194.7" cy="348.7" r="2.1"/><circle cx="197.0" cy="348.7" r="2.1"/><circle cx="183.1" cy="360.3" r="2.1"/><circle cx="185.0" cy="359.8" r="2.1"/><circle cx="186.4" cy="360.7" r="2.1"/><circle cx="177.6" cy="364.4" r="2.1"/><circle cx="184.5" cy="364.4" r="2.1"/><circle cx="172.1" cy="369.5" r="2.1"/><circle cx="177.2" cy="369.5" r="2.1"/><circle cx="174.4" cy="371.8" r="2.1"/><circle cx="166.6" cy="371.8" r="2.1"/><circle cx="169.8" cy="373.1" r="2.1"/><circle cx="172.1" cy="374.1" r="2.1"/><circle cx="161.5" cy="380.5" r="2.1"/><circle cx="162.0" cy="381.9" r="2.1"/><circle cx="166.6" cy="381.4" r="2.1"/><circle cx="150.9" cy="383.3" r="2.1"/><circle cx="153.7" cy="387.9" r="2.1"/><circle cx="156.4" cy="386.5" r="2.1"/><circle cx="159.2" cy="387.0" r="2.1"/><circle cx="241.8" cy="315.8" r="2.1"/><circle cx="231.2" cy="321.7" r="2.1"/><circle cx="220.2" cy="326.5" r="2.1"/><circle cx="217.2" cy="329.5" r="2.1"/><circle cx="218.7" cy="332.4" r="2.1"/><circle cx="209.9" cy="332.7" r="2.1"/><circle cx="211.8" cy="332.7" r="2.1"/><circle cx="199.6" cy="342.3" r="2.1"/><circle cx="211.4" cy="344.5" r="2.1"/><circle cx="194.4" cy="348.9" r="2.1"/><circle cx="196.6" cy="348.9" r="2.1"/><circle cx="209.1" cy="369.5" r="2.1"/><circle cx="86.0" cy="444.2" r="2.1"/><circle cx="99.3" cy="429.9" r="2.1"/><circle cx="124.0" cy="436.6" r="2.1"/><circle cx="106.9" cy="453.6" r="2.1"/><circle cx="112.6" cy="450.8" r="2.1"/><circle cx="54.5" cy="474.1" r="2.1"/><circle cx="37.5" cy="484.2" r="2.1"/><circle cx="44.0" cy="487.0" r="2.1"/><circle cx="63.4" cy="474.9" r="2.1"/><circle cx="65.8" cy="474.1" r="2.1"/><circle cx="61.8" cy="478.9" r="2.1"/><circle cx="57.7" cy="479.7" r="2.1"/><circle cx="55.3" cy="480.5" r="2.1"/><circle cx="54.5" cy="483.8" r="2.1"/><circle cx="51.3" cy="485.4" r="2.1"/><circle cx="48.8" cy="487.8" r="2.1"/><circle cx="47.2" cy="490.3" r="2.1"/><circle cx="44.8" cy="491.9" r="2.1"/><circle cx="42.3" cy="493.5" r="2.1"/><circle cx="39.9" cy="495.1" r="2.1"/><circle cx="37.5" cy="496.7" r="2.1"/><circle cx="35.1" cy="497.6" r="2.1"/><circle cx="41.5" cy="496.7" r="2.1"/><circle cx="44.0" cy="495.9" r="2.1"/><circle cx="49.6" cy="490.3" r="2.1"/><circle cx="52.1" cy="488.6" r="2.1"/><circle cx="50.4" cy="494.3" r="2.1"/><circle cx="49.6" cy="497.6" r="2.1"/><circle cx="52.9" cy="496.7" r="2.1"/><circle cx="55.3" cy="494.3" r="2.1"/><circle cx="57.7" cy="492.7" r="2.1"/><circle cx="60.2" cy="490.3" r="2.1"/><circle cx="62.6" cy="488.6" r="2.1"/><circle cx="65.0" cy="486.2" r="2.1"/><circle cx="63.4" cy="484.6" r="2.1"/><circle cx="55.3" cy="498.8" r="2.1"/><circle cx="35.9" cy="500.8" r="2.1"/><circle cx="39.1" cy="499.2" r="2.1"/><circle cx="41.5" cy="502.4" r="2.1"/><circle cx="39.9" cy="506.5" r="2.1"/><circle cx="38.3" cy="508.9" r="2.1"/><circle cx="32.6" cy="512.1" r="2.1"/><circle cx="34.2" cy="512.1" r="2.1"/><circle cx="65.0" cy="479.7" r="2.1"/></g>
<g fill="#f7b608"><circle cx="67.5" cy="473.8" r="2.1"/><circle cx="69.9" cy="475.5" r="2.1"/><circle cx="72.4" cy="476.3" r="2.1"/><circle cx="74.1" cy="471.3" r="2.1"/><circle cx="68.3" cy="469.7" r="2.1"/><circle cx="70.8" cy="472.1" r="2.1"/><circle cx="73.3" cy="480.4" r="2.1"/><circle cx="67.5" cy="490.0" r="2.1"/><circle cx="72.8" cy="492.4" r="2.1"/><circle cx="69.1" cy="504.0" r="2.1"/><circle cx="79.1" cy="449.1" r="2.1"/><circle cx="79.5" cy="453.3" r="2.1"/><circle cx="96.5" cy="445.8" r="2.1"/><circle cx="98.1" cy="446.2" r="2.1"/><circle cx="93.1" cy="450.8" r="2.1"/><circle cx="95.6" cy="452.0" r="2.1"/><circle cx="79.9" cy="462.4" r="2.1"/><circle cx="82.4" cy="462.4" r="2.1"/><circle cx="87.3" cy="463.6" r="2.1"/><circle cx="77.4" cy="467.3" r="2.1"/><circle cx="81.5" cy="469.8" r="2.1"/><circle cx="74.9" cy="471.5" r="2.1"/><circle cx="76.6" cy="472.3" r="2.1"/><circle cx="67.5" cy="468.2" r="2.1"/><circle cx="69.1" cy="470.7" r="2.1"/><circle cx="68.3" cy="474.0" r="2.1"/><circle cx="70.8" cy="475.6" r="2.1"/><circle cx="72.8" cy="476.5" r="2.1"/><circle cx="66.6" cy="482.3" r="2.1"/><circle cx="72.4" cy="481.0" r="2.1"/><circle cx="128.1" cy="412.5" r="2.1"/><circle cx="132.3" cy="413.7" r="2.1"/><circle cx="134.7" cy="418.3" r="2.1"/><circle cx="130.6" cy="430.7" r="2.1"/><circle cx="105.3" cy="439.4" r="2.1"/><circle cx="111.1" cy="441.9" r="2.1"/><circle cx="96.6" cy="446.0" r="2.1"/><circle cx="98.3" cy="446.0" r="2.1"/><circle cx="92.5" cy="450.6" r="2.1"/><circle cx="94.1" cy="451.4" r="2.1"/><circle cx="96.2" cy="452.3" r="2.1"/><circle cx="157.7" cy="381.2" r="2.1"/><circle cx="160.6" cy="388.3" r="2.1"/><circle cx="139.5" cy="393.7" r="2.1"/><circle cx="136.6" cy="399.9" r="2.1"/><circle cx="138.6" cy="400.7" r="2.1"/><circle cx="141.5" cy="399.9" r="2.1"/><circle cx="144.0" cy="400.7" r="2.1"/><circle cx="139.9" cy="402.4" r="2.1"/><circle cx="143.2" cy="402.8" r="2.1"/><circle cx="128.3" cy="412.3" r="2.1"/><circle cx="132.4" cy="413.6" r="2.1"/><circle cx="135.7" cy="418.5" r="2.1"/><circle cx="180.8" cy="364.4" r="2.1"/><circle cx="168.4" cy="375.9" r="2.1"/><circle cx="170.3" cy="380.5" r="2.1"/><circle cx="157.8" cy="381.4" r="2.1"/><circle cx="161.0" cy="388.3" r="2.1"/><circle cx="112.6" cy="470.7" r="2.1"/><circle cx="69.0" cy="503.5" r="2.1"/><circle cx="72.7" cy="492.5" r="2.1"/><circle cx="67.0" cy="490.6" r="2.1"/><circle cx="72.7" cy="481.2" r="2.1"/><circle cx="79.4" cy="449.8" r="2.1"/><circle cx="79.4" cy="453.3" r="2.1"/><circle cx="130.0" cy="430.5" r="2.1"/><circle cx="59.4" cy="473.6" r="2.1"/><circle cx="56.9" cy="476.5" r="2.1"/><circle cx="63.4" cy="478.1" r="2.1"/><circle cx="65.0" cy="476.5" r="2.1"/><circle cx="60.2" cy="481.3" r="2.1"/><circle cx="57.7" cy="483.0" r="2.1"/><circle cx="55.3" cy="484.6" r="2.1"/><circle cx="61.8" cy="483.8" r="2.1"/><circle cx="64.2" cy="482.2" r="2.1"/><circle cx="53.7" cy="487.0" r="2.1"/><circle cx="56.1" cy="487.0" r="2.1"/><circle cx="52.9" cy="489.4" r="2.1"/><circle cx="54.5" cy="491.1" r="2.1"/><circle cx="52.9" cy="492.7" r="2.1"/><circle cx="55.3" cy="489.4" r="2.1"/><circle cx="58.6" cy="486.2" r="2.1"/><circle cx="61.0" cy="486.2" r="2.1"/><circle cx="60.2" cy="494.3" r="2.1"/><circle cx="62.6" cy="493.5" r="2.1"/><circle cx="47.2" cy="495.1" r="2.1"/><circle cx="46.4" cy="497.6" r="2.1"/><circle cx="44.8" cy="499.2" r="2.1"/><circle cx="42.3" cy="500.8" r="2.1"/><circle cx="39.9" cy="502.4" r="2.1"/><circle cx="38.3" cy="504.0" r="2.1"/><circle cx="35.9" cy="505.7" r="2.1"/><circle cx="33.4" cy="507.3" r="2.1"/><circle cx="33.4" cy="501.6" r="2.1"/><circle cx="41.5" cy="504.8" r="2.1"/><circle cx="44.0" cy="505.7" r="2.1"/><circle cx="46.4" cy="505.7" r="2.1"/><circle cx="43.2" cy="508.1" r="2.1"/><circle cx="35.9" cy="508.1" r="2.1"/><circle cx="34.2" cy="509.7" r="2.1"/><circle cx="37.5" cy="507.3" r="2.1"/><circle cx="39.1" cy="509.7" r="2.1"/></g>
<line x1="31.50" y1="279.50" x2="265.50" y2="279.50" stroke="#8e8e8e" stroke-width="1.2"/>
<line x1="265.50" y1="279.50" x2="265.50" y2="513.00" stroke="#8e8e8e" stroke-width="1.2"/>
<line x1="31.50" y1="279.00" x2="31.50" y2="513.60" stroke="#4a4a4a" stroke-width="1.25"/>
<line x1="30.90" y1="513.00" x2="266.00" y2="513.00" stroke="#4a4a4a" stroke-width="1.25"/>
<text x="31.5" y="524.0" text-anchor="middle" class="t tk">0</text>
<text x="28.6" y="516.3" text-anchor="end" class="t tk">0</text>
<text x="67.5" y="524.0" text-anchor="middle" class="t tk">2</text>
<text x="28.6" y="480.4" text-anchor="end" class="t tk">2</text>
<text x="103.5" y="524.0" text-anchor="middle" class="t tk">4</text>
<text x="28.6" y="444.5" text-anchor="end" class="t tk">4</text>
<text x="139.5" y="524.0" text-anchor="middle" class="t tk">6</text>
<text x="28.6" y="408.6" text-anchor="end" class="t tk">6</text>
<text x="175.5" y="524.0" text-anchor="middle" class="t tk">8</text>
<text x="28.6" y="372.7" text-anchor="end" class="t tk">8</text>
<text x="211.5" y="524.0" text-anchor="middle" class="t tk">10</text>
<text x="28.6" y="336.8" text-anchor="end" class="t tk">10</text>
<text x="247.5" y="524.0" text-anchor="middle" class="t tk">12</text>
<text x="28.6" y="300.9" text-anchor="end" class="t tk">12</text>
<path d="M31.50 513.00V510.00M31.50 513.00H34.50M49.50 513.00V511.40M31.50 495.05H33.10M67.50 513.00V510.00M31.50 477.10H34.50M85.50 513.00V511.40M31.50 459.15H33.10M103.50 513.00V510.00M31.50 441.20H34.50M121.50 513.00V511.40M31.50 423.25H33.10M139.50 513.00V510.00M31.50 405.30H34.50M157.50 513.00V511.40M31.50 387.35H33.10M175.50 513.00V510.00M31.50 369.40H34.50M193.50 513.00V511.40M31.50 351.45H33.10M211.50 513.00V510.00M31.50 333.50H34.50M229.50 513.00V511.40M31.50 315.55H33.10M247.50 513.00V510.00M31.50 297.60H34.50" stroke="#4a4a4a" stroke-width="1.1" fill="none"/>
<text x="148.9" y="535.6" text-anchor="middle" class="t tt" textLength="112.6" lengthAdjust="spacingAndGlyphs">Experimental band gap / eV</text>
<text transform="translate(14.3,396.3) rotate(-90)" x="0" y="0" text-anchor="middle" class="t tt" textLength="118.7" lengthAdjust="spacingAndGlyphs">Predicted band gap (RF) / eV</text>
<text x="11.2" y="283.7" class="pl">(c)</text>
<circle cx="47.6" cy="294.8" r="2.0" fill="#2a94fa"/>
<circle cx="47.6" cy="305.6" r="2.0" fill="#f7b608"/>
<text x="57.4" y="297.9" class="t">RF_train</text>
<text x="57.4" y="308.8" class="t">RF_test</text>
<line x1="45.3" y1="318.3" x2="64.6" y2="318.3" stroke="#8c8c8c" stroke-width="1.2" stroke-dasharray="4,3.6"/>
<text x="70.0" y="320.8" class="t">y = x</text>
<text x="178.0" y="469.6" class="s">train R<tspan class="sup" dy="-3">2</tspan></text>
<text x="250.6" y="469.6" text-anchor="end" class="s">= 0.990</text>
<text x="178.0" y="480.2" class="s">train RMSE</text>
<text x="250.6" y="480.2" text-anchor="end" class="s">= 0.197</text>
<text x="178.0" y="490.8" class="s">test&#160; R<tspan class="sup" dy="-3">2</tspan></text>
<text x="250.6" y="490.8" text-anchor="end" class="s">= 0.959</text>
<text x="178.0" y="501.4" class="s">test&#160; RMSE</text>
<text x="250.6" y="501.4" text-anchor="end" class="s">= 0.390</text>
<line x1="303.30" y1="513.00" x2="537.30" y2="279.65" stroke="#8c8c8c" stroke-width="1.3" stroke-dasharray="3.3,2.6"/>
<g fill="#2a94fa"><circle cx="312.1" cy="474.6" r="2.1"/><circle cx="339.5" cy="491.2" r="2.1"/><circle cx="344.4" cy="488.3" r="2.1"/><circle cx="359.0" cy="456.6" r="2.1"/><circle cx="361.5" cy="455.7" r="2.1"/><circle cx="359.8" cy="452.4" r="2.1"/><circle cx="361.5" cy="450.8" r="2.1"/><circle cx="364.8" cy="449.1" r="2.1"/><circle cx="367.3" cy="446.6" r="2.1"/><circle cx="369.8" cy="447.5" r="2.1"/><circle cx="372.3" cy="448.3" r="2.1"/><circle cx="373.9" cy="450.8" r="2.1"/><circle cx="371.4" cy="457.4" r="2.1"/><circle cx="365.6" cy="456.6" r="2.1"/><circle cx="366.5" cy="462.0" r="2.1"/><circle cx="364.8" cy="464.4" r="2.1"/><circle cx="368.9" cy="464.4" r="2.1"/><circle cx="368.1" cy="468.6" r="2.1"/><circle cx="358.2" cy="483.9" r="2.1"/><circle cx="403.1" cy="412.5" r="2.1"/><circle cx="403.9" cy="418.3" r="2.1"/><circle cx="400.6" cy="424.9" r="2.1"/><circle cx="400.6" cy="427.4" r="2.1"/><circle cx="391.5" cy="419.9" r="2.1"/><circle cx="393.1" cy="422.4" r="2.1"/><circle cx="394.8" cy="424.9" r="2.1"/><circle cx="389.0" cy="426.6" r="2.1"/><circle cx="382.4" cy="425.7" r="2.1"/><circle cx="378.2" cy="427.4" r="2.1"/><circle cx="374.9" cy="429.9" r="2.1"/><circle cx="371.6" cy="433.2" r="2.1"/><circle cx="372.4" cy="436.5" r="2.1"/><circle cx="384.0" cy="432.4" r="2.1"/><circle cx="383.2" cy="435.7" r="2.1"/><circle cx="391.5" cy="433.2" r="2.1"/><circle cx="398.1" cy="433.6" r="2.1"/><circle cx="362.5" cy="436.5" r="2.1"/><circle cx="376.6" cy="439.0" r="2.1"/><circle cx="377.0" cy="443.6" r="2.1"/><circle cx="389.8" cy="442.3" r="2.1"/><circle cx="392.3" cy="443.1" r="2.1"/><circle cx="394.0" cy="442.7" r="2.1"/><circle cx="395.6" cy="448.1" r="2.1"/><circle cx="384.0" cy="453.1" r="2.1"/><circle cx="382.4" cy="446.5" r="2.1"/><circle cx="367.5" cy="446.5" r="2.1"/><circle cx="365.0" cy="448.9" r="2.1"/><circle cx="370.8" cy="448.9" r="2.1"/><circle cx="374.1" cy="448.1" r="2.1"/><circle cx="378.2" cy="448.9" r="2.1"/><circle cx="361.7" cy="450.6" r="2.1"/><circle cx="360.8" cy="453.1" r="2.1"/><circle cx="437.9" cy="373.2" r="2.1"/><circle cx="421.8" cy="386.6" r="2.1"/><circle cx="425.9" cy="389.3" r="2.1"/><circle cx="432.4" cy="386.6" r="2.1"/><circle cx="434.2" cy="388.4" r="2.1"/><circle cx="437.9" cy="389.3" r="2.1"/><circle cx="405.7" cy="396.2" r="2.1"/><circle cx="404.7" cy="399.5" r="2.1"/><circle cx="408.4" cy="399.5" r="2.1"/><circle cx="411.2" cy="400.4" r="2.1"/><circle cx="417.6" cy="396.2" r="2.1"/><circle cx="418.5" cy="400.4" r="2.1"/><circle cx="403.8" cy="402.7" r="2.1"/><circle cx="410.3" cy="403.1" r="2.1"/><circle cx="413.9" cy="402.2" r="2.1"/><circle cx="417.6" cy="403.1" r="2.1"/><circle cx="424.5" cy="401.3" r="2.1"/><circle cx="398.3" cy="407.3" r="2.1"/><circle cx="409.3" cy="406.8" r="2.1"/><circle cx="413.9" cy="406.8" r="2.1"/><circle cx="416.7" cy="410.5" r="2.1"/><circle cx="414.9" cy="412.8" r="2.1"/><circle cx="403.8" cy="412.4" r="2.1"/><circle cx="402.0" cy="413.3" r="2.1"/><circle cx="402.9" cy="418.3" r="2.1"/><circle cx="391.4" cy="419.3" r="2.1"/><circle cx="466.0" cy="346.6" r="2.1"/><circle cx="468.7" cy="346.6" r="2.1"/><circle cx="471.0" cy="351.6" r="2.1"/><circle cx="454.5" cy="358.5" r="2.1"/><circle cx="456.8" cy="358.5" r="2.1"/><circle cx="458.6" cy="358.5" r="2.1"/><circle cx="456.3" cy="361.8" r="2.1"/><circle cx="448.9" cy="361.8" r="2.1"/><circle cx="441.6" cy="369.6" r="2.1"/><circle cx="443.4" cy="368.7" r="2.1"/><circle cx="444.8" cy="369.6" r="2.1"/><circle cx="448.9" cy="368.2" r="2.1"/><circle cx="438.4" cy="372.8" r="2.1"/><circle cx="446.2" cy="372.8" r="2.1"/><circle cx="513.8" cy="307.0" r="2.1"/><circle cx="503.0" cy="319.0" r="2.1"/><circle cx="481.4" cy="330.1" r="2.1"/><circle cx="483.6" cy="330.1" r="2.1"/><circle cx="490.2" cy="329.3" r="2.1"/><circle cx="488.7" cy="331.5" r="2.1"/><circle cx="492.1" cy="334.2" r="2.1"/><circle cx="482.8" cy="336.0" r="2.1"/><circle cx="490.2" cy="343.0" r="2.1"/><circle cx="465.9" cy="346.3" r="2.1"/><circle cx="468.8" cy="346.3" r="2.1"/><circle cx="471.0" cy="351.7" r="2.1"/><circle cx="481.4" cy="355.6" r="2.1"/><circle cx="357.1" cy="425.6" r="2.1"/><circle cx="362.1" cy="437.0" r="2.1"/><circle cx="315.3" cy="481.0" r="2.1"/><circle cx="319.2" cy="480.7" r="2.1"/><circle cx="318.2" cy="486.0" r="2.1"/><circle cx="320.9" cy="485.3" r="2.1"/><circle cx="321.6" cy="487.9" r="2.1"/><circle cx="320.2" cy="491.3" r="2.1"/><circle cx="321.6" cy="494.6" r="2.1"/><circle cx="320.9" cy="497.9" r="2.1"/><circle cx="320.9" cy="501.2" r="2.1"/><circle cx="324.9" cy="492.6" r="2.1"/><circle cx="326.2" cy="494.6" r="2.1"/><circle cx="328.2" cy="493.2" r="2.1"/><circle cx="330.8" cy="490.6" r="2.1"/><circle cx="332.8" cy="492.6" r="2.1"/><circle cx="333.5" cy="488.6" r="2.1"/><circle cx="306.3" cy="488.6" r="2.1"/><circle cx="309.0" cy="489.3" r="2.1"/><circle cx="311.6" cy="489.3" r="2.1"/><circle cx="307.6" cy="492.6" r="2.1"/><circle cx="310.3" cy="492.6" r="2.1"/><circle cx="313.6" cy="492.6" r="2.1"/><circle cx="307.0" cy="495.9" r="2.1"/><circle cx="309.6" cy="495.9" r="2.1"/><circle cx="312.3" cy="495.9" r="2.1"/><circle cx="308.3" cy="499.2" r="2.1"/><circle cx="311.6" cy="498.5" r="2.1"/><circle cx="326.2" cy="502.2" r="2.1"/><circle cx="317.6" cy="506.5" r="2.1"/><circle cx="310.3" cy="508.5" r="2.1"/><circle cx="304.3" cy="507.8" r="2.1"/><circle cx="349.9" cy="451.0" r="2.1"/><circle cx="346.5" cy="456.0" r="2.1"/><circle cx="349.9" cy="458.0" r="2.1"/><circle cx="353.2" cy="458.6" r="2.1"/><circle cx="356.5" cy="459.3" r="2.1"/><circle cx="326.0" cy="460.3" r="2.1"/><circle cx="329.3" cy="467.2" r="2.1"/><circle cx="336.6" cy="465.3" r="2.1"/><circle cx="339.9" cy="462.9" r="2.1"/><circle cx="343.2" cy="462.6" r="2.1"/><circle cx="347.2" cy="462.6" r="2.1"/><circle cx="351.2" cy="462.6" r="2.1"/><circle cx="335.3" cy="468.6" r="2.1"/><circle cx="341.2" cy="468.6" r="2.1"/><circle cx="344.5" cy="469.2" r="2.1"/><circle cx="350.5" cy="469.2" r="2.1"/><circle cx="353.2" cy="467.9" r="2.1"/><circle cx="333.9" cy="473.2" r="2.1"/><circle cx="343.2" cy="475.2" r="2.1"/><circle cx="347.2" cy="475.2" r="2.1"/><circle cx="353.8" cy="472.5" r="2.1"/><circle cx="356.5" cy="472.5" r="2.1"/><circle cx="324.7" cy="475.2" r="2.1"/><circle cx="323.3" cy="477.9" r="2.1"/><circle cx="326.0" cy="479.2" r="2.1"/><circle cx="338.6" cy="476.5" r="2.1"/><circle cx="341.2" cy="477.9" r="2.1"/><circle cx="338.6" cy="481.2" r="2.1"/><circle cx="346.5" cy="481.2" r="2.1"/><circle cx="355.2" cy="477.9" r="2.1"/><circle cx="324.0" cy="483.2" r="2.1"/><circle cx="329.3" cy="484.5" r="2.1"/><circle cx="337.9" cy="484.5" r="2.1"/><circle cx="432.9" cy="386.3" r="2.1"/><circle cx="410.8" cy="421.7" r="2.1"/><circle cx="410.8" cy="427.2" r="2.1"/></g>
<g fill="#f7b608"><circle cx="338.6" cy="488.3" r="2.1"/><circle cx="340.7" cy="497.4" r="2.1"/><circle cx="364.8" cy="452.4" r="2.1"/><circle cx="367.3" cy="452.4" r="2.1"/><circle cx="369.8" cy="452.4" r="2.1"/><circle cx="366.5" cy="454.9" r="2.1"/><circle cx="359.0" cy="462.0" r="2.1"/><circle cx="399.8" cy="421.2" r="2.1"/><circle cx="403.5" cy="427.4" r="2.1"/><circle cx="377.0" cy="437.3" r="2.1"/><circle cx="384.0" cy="444.8" r="2.1"/><circle cx="382.8" cy="449.8" r="2.1"/><circle cx="402.3" cy="443.6" r="2.1"/><circle cx="364.1" cy="452.3" r="2.1"/><circle cx="366.6" cy="452.3" r="2.1"/><circle cx="369.1" cy="451.8" r="2.1"/><circle cx="429.6" cy="389.3" r="2.1"/><circle cx="432.4" cy="389.3" r="2.1"/><circle cx="439.3" cy="389.3" r="2.1"/><circle cx="408.0" cy="396.2" r="2.1"/><circle cx="413.0" cy="396.2" r="2.1"/><circle cx="415.3" cy="396.2" r="2.1"/><circle cx="415.8" cy="403.1" r="2.1"/><circle cx="409.3" cy="410.1" r="2.1"/><circle cx="411.6" cy="410.1" r="2.1"/><circle cx="411.2" cy="415.1" r="2.1"/><circle cx="452.3" cy="362.2" r="2.1"/><circle cx="350.7" cy="433.7" r="2.1"/><circle cx="305.3" cy="489.6" r="2.1"/><circle cx="314.9" cy="489.9" r="2.1"/><circle cx="317.6" cy="491.3" r="2.1"/><circle cx="318.2" cy="494.6" r="2.1"/><circle cx="316.9" cy="497.2" r="2.1"/><circle cx="313.6" cy="499.2" r="2.1"/><circle cx="316.3" cy="500.5" r="2.1"/><circle cx="318.9" cy="499.9" r="2.1"/><circle cx="311.0" cy="501.9" r="2.1"/><circle cx="308.3" cy="503.2" r="2.1"/><circle cx="305.7" cy="503.8" r="2.1"/><circle cx="304.3" cy="505.8" r="2.1"/><circle cx="307.0" cy="507.2" r="2.1"/><circle cx="307.0" cy="509.1" r="2.1"/><circle cx="309.6" cy="505.2" r="2.1"/><circle cx="312.9" cy="504.5" r="2.1"/><circle cx="315.6" cy="503.8" r="2.1"/><circle cx="325.5" cy="497.5" r="2.1"/><circle cx="332.2" cy="496.2" r="2.1"/><circle cx="324.2" cy="491.3" r="2.1"/><circle cx="326.9" cy="490.6" r="2.1"/><circle cx="329.5" cy="490.6" r="2.1"/><circle cx="325.5" cy="487.3" r="2.1"/><circle cx="330.8" cy="486.6" r="2.1"/><circle cx="334.1" cy="487.9" r="2.1"/><circle cx="324.2" cy="489.3" r="2.1"/><circle cx="339.6" cy="467.6" r="2.1"/><circle cx="344.5" cy="465.3" r="2.1"/><circle cx="348.5" cy="465.9" r="2.1"/><circle cx="352.5" cy="463.9" r="2.1"/><circle cx="336.6" cy="471.9" r="2.1"/><circle cx="339.2" cy="472.5" r="2.1"/><circle cx="341.9" cy="472.9" r="2.1"/><circle cx="346.5" cy="471.2" r="2.1"/><circle cx="348.5" cy="471.9" r="2.1"/><circle cx="351.2" cy="475.9" r="2.1"/><circle cx="328.6" cy="476.5" r="2.1"/><circle cx="335.3" cy="478.5" r="2.1"/><circle cx="331.9" cy="480.5" r="2.1"/><circle cx="328.0" cy="482.5" r="2.1"/><circle cx="334.6" cy="483.2" r="2.1"/><circle cx="344.5" cy="481.8" r="2.1"/><circle cx="351.2" cy="454.0" r="2.1"/><circle cx="331.0" cy="457.3" r="2.1"/><circle cx="338.9" cy="457.3" r="2.1"/><circle cx="441.8" cy="386.3" r="2.1"/><circle cx="407.5" cy="422.8" r="2.1"/></g>
<line x1="303.30" y1="279.50" x2="537.50" y2="279.50" stroke="#8e8e8e" stroke-width="1.2"/>
<line x1="537.50" y1="279.50" x2="537.50" y2="513.00" stroke="#8e8e8e" stroke-width="1.2"/>
<line x1="303.30" y1="279.00" x2="303.30" y2="513.60" stroke="#4a4a4a" stroke-width="1.25"/>
<line x1="302.70" y1="513.00" x2="538.00" y2="513.00" stroke="#4a4a4a" stroke-width="1.25"/>
<text x="303.3" y="524.0" text-anchor="middle" class="t tk">0</text>
<text x="300.4" y="516.3" text-anchor="end" class="t tk">0</text>
<text x="339.3" y="524.0" text-anchor="middle" class="t tk">2</text>
<text x="300.4" y="480.4" text-anchor="end" class="t tk">2</text>
<text x="375.3" y="524.0" text-anchor="middle" class="t tk">4</text>
<text x="300.4" y="444.5" text-anchor="end" class="t tk">4</text>
<text x="411.3" y="524.0" text-anchor="middle" class="t tk">6</text>
<text x="300.4" y="408.6" text-anchor="end" class="t tk">6</text>
<text x="447.3" y="524.0" text-anchor="middle" class="t tk">8</text>
<text x="300.4" y="372.7" text-anchor="end" class="t tk">8</text>
<text x="483.3" y="524.0" text-anchor="middle" class="t tk">10</text>
<text x="300.4" y="336.8" text-anchor="end" class="t tk">10</text>
<text x="519.3" y="524.0" text-anchor="middle" class="t tk">12</text>
<text x="300.4" y="300.9" text-anchor="end" class="t tk">12</text>
<path d="M303.30 513.00V510.00M303.30 513.00H306.30M321.30 513.00V511.40M303.30 495.05H304.90M339.30 513.00V510.00M303.30 477.10H306.30M357.30 513.00V511.40M303.30 459.15H304.90M375.30 513.00V510.00M303.30 441.20H306.30M393.30 513.00V511.40M303.30 423.25H304.90M411.30 513.00V510.00M303.30 405.30H306.30M429.30 513.00V511.40M303.30 387.35H304.90M447.30 513.00V510.00M303.30 369.40H306.30M465.30 513.00V511.40M303.30 351.45H304.90M483.30 513.00V510.00M303.30 333.50H306.30M501.30 513.00V511.40M303.30 315.55H304.90M519.30 513.00V510.00M303.30 297.60H306.30" stroke="#4a4a4a" stroke-width="1.1" fill="none"/>
<text x="420.7" y="535.6" text-anchor="middle" class="t tt" textLength="112.6" lengthAdjust="spacingAndGlyphs">Experimental band gap / eV</text>
<text transform="translate(286.1,396.3) rotate(-90)" x="0" y="0" text-anchor="middle" class="t tt" textLength="131.8" lengthAdjust="spacingAndGlyphs">Predicted band gap (GBDT) / eV</text>
<text x="281.2" y="284.6" class="pl">(d)</text>
<circle cx="320.7" cy="293.3" r="2.0" fill="#2a94fa"/>
<circle cx="320.7" cy="304.1" r="2.0" fill="#f7b608"/>
<text x="330.5" y="296.4" class="t">GBDT_train</text>
<text x="330.5" y="307.3" class="t">GBDT_test</text>
<line x1="319.9" y1="316.8" x2="339.2" y2="316.8" stroke="#8c8c8c" stroke-width="1.2" stroke-dasharray="4,3.6"/>
<text x="344.7" y="319.3" class="t">y = x</text>
<text x="451.6" y="464.5" class="s">train R<tspan class="sup" dy="-3">2</tspan></text>
<text x="523.3" y="464.5" text-anchor="end" class="s">= 0.978</text>
<text x="451.6" y="474.7" class="s">train RMSE</text>
<text x="523.3" y="474.7" text-anchor="end" class="s">= 0.288</text>
<text x="451.6" y="484.9" class="s">test&#160; R<tspan class="sup" dy="-3">2</tspan></text>
<text x="523.3" y="484.9" text-anchor="end" class="s">= 0.965</text>
<text x="451.6" y="495.1" class="s">test&#160; RMSE</text>
<text x="523.3" y="495.1" text-anchor="end" class="s">= 0.361</text>
</g>
</svg></body></html>
